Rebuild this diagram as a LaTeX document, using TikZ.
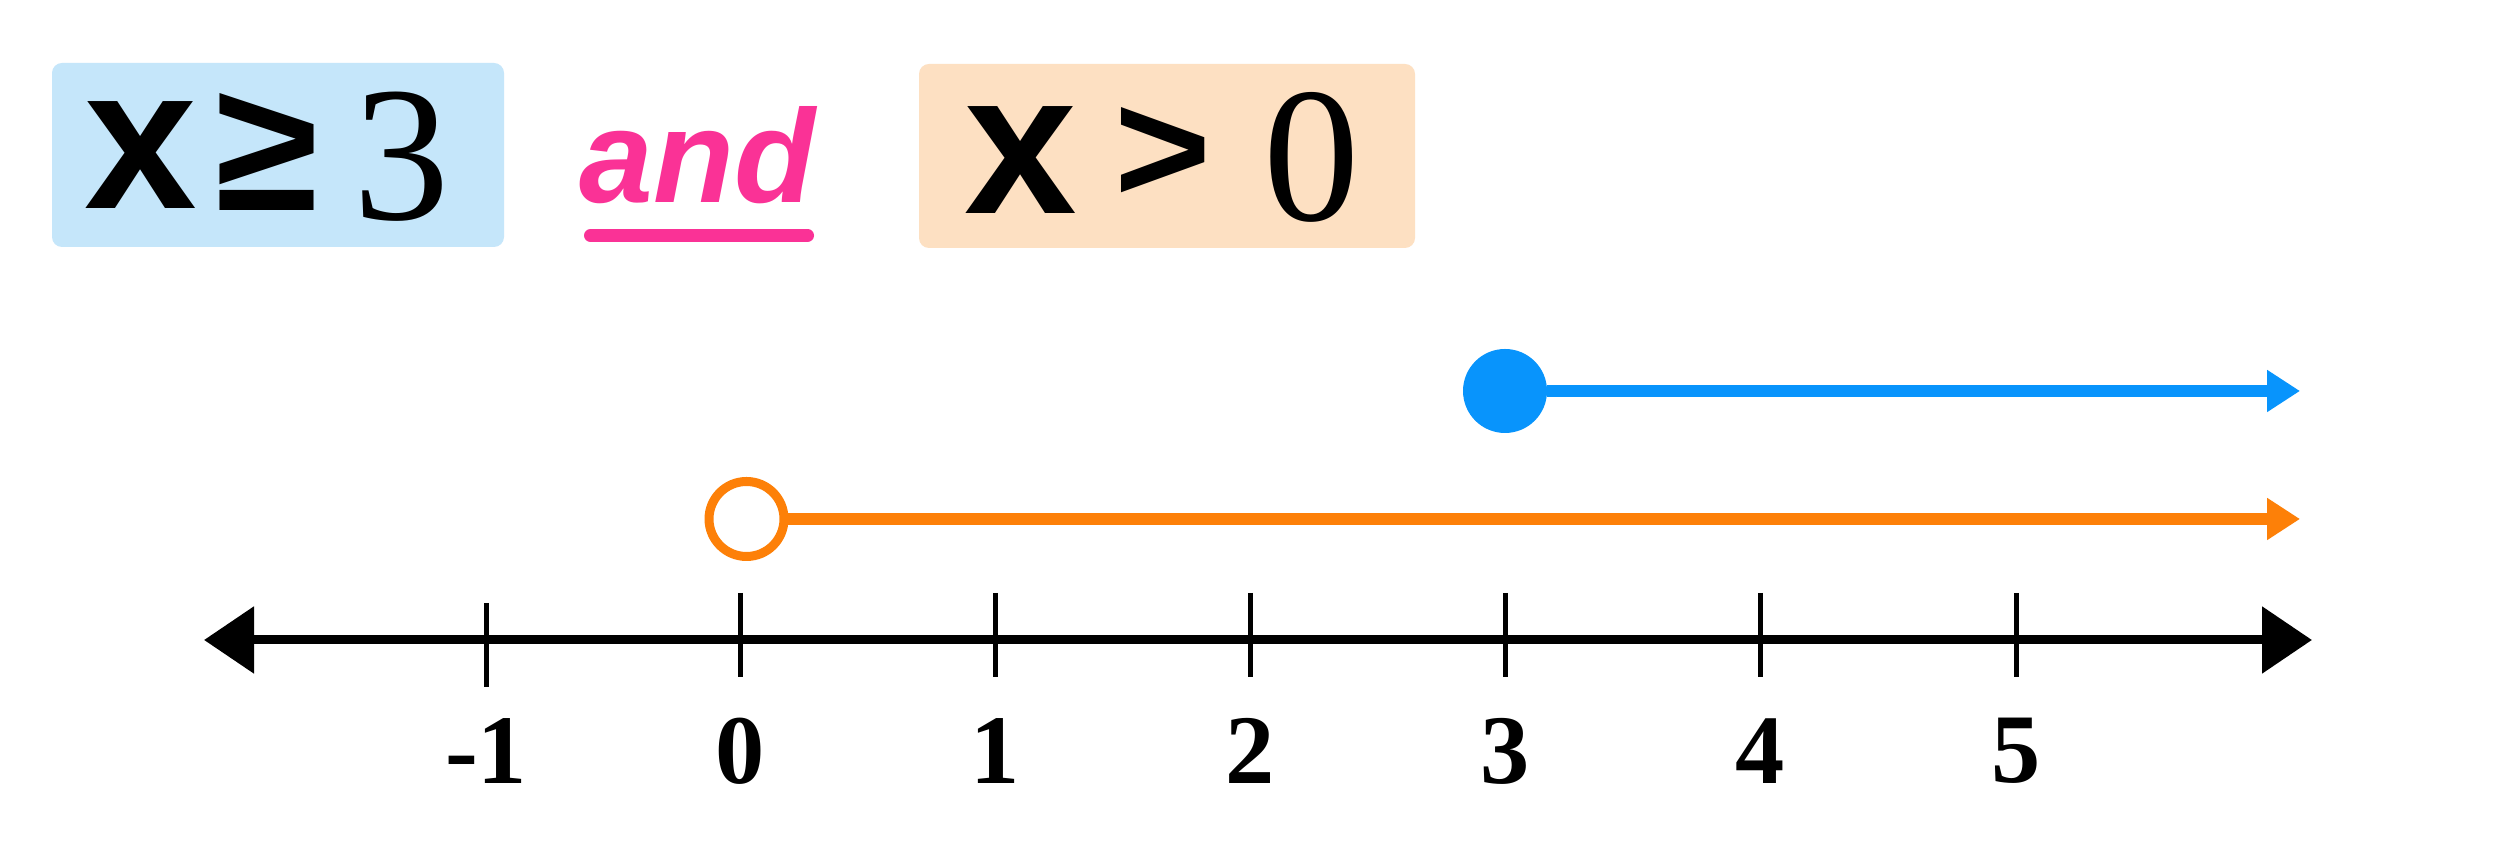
\documentclass[tikz,border=0pt]{standalone}
\usepackage{fontspec}
\setmainfont{Liberation Serif}
\newfontfamily\headsans{Liberation Sans}
\usetikzlibrary{arrows.meta}
\definecolor{boxblue}{RGB}{197,230,250}
\definecolor{boxpeach}{RGB}{253,224,194}
\definecolor{rayblue}{RGB}{8,148,252}
\definecolor{rayorange}{RGB}{253,128,8}
\definecolor{andpink}{RGB}{250,50,150}

\begin{document}
\begin{tikzpicture}[
  hbox/.style={rectangle,rounded corners=1mm,minimum height=18.4mm,inner sep=0pt},
  glyph/.style={inner sep=0pt},
  var/.style={glyph,font=\headsans\bfseries\fontsize{57.6}{60}\selectfont},
  num/.style={glyph,font=\fontsize{54.8}{58}\selectfont},
  tick/.style={line width=0.5mm},
  tlbl/.style={glyph,font=\bfseries\fontsize{28}{30}\selectfont},
  ray/.style={line width=1.2mm,-{Triangle[length=3.3mm,width=4mm]}}]

\fill[white] (0,0) rectangle (25,8.64);
\useasboundingbox (0,0) rectangle (25,8.64);

% the two inequalities
\node[hbox,fill=boxblue,minimum width=45.2mm] (lhsbox) at (2.78,7.09) {};
\node[hbox,fill=boxpeach,minimum width=49.6mm] (rhsbox) at (11.67,7.08) {};

\node[var] (lx) at (1.405,7.085) {x};
\node[glyph] (lge) at (2.665,7.115)
  {\resizebox*{10.3mm}{11.7mm}{\headsans\bfseries ≥}};
\node[num] (lthree) at (4.02,7.075) {3};

\node[var] (rx) at (10.21,7.035) {x};
\node[glyph] (rgt) at (11.625,7.085)
  {\resizebox*{9.7mm}{9.5mm}{\headsans\bfseries >}};
\node[num] (rzero) at (13.115,7.07) {0};

\node[glyph,font=\headsans\bfseries\itshape\fontsize{37.7}{40}\selectfont,
      text=andpink] (andw) at (6.975,7.085) {and};
\coordinate (ulstart) at (5.905,6.285);
\coordinate (ulend) at (8.075,6.285);
\draw[line width=1.3mm,line cap=round,andpink] (ulstart) -- (ulend);

% solution rays
\node[circle,fill=rayblue,minimum size=8.4mm,inner sep=0pt,outer sep=0pt] (bdot) at (15.05,4.73) {};
\coordinate (btip) at (23.00,4.73);
\draw[ray,rayblue] (bdot) -- (btip);

\node[circle,draw=rayorange,line width=0.9mm,fill=white,minimum size=7.5mm,
      inner sep=0pt,outer sep=0pt] (odot) at (7.465,3.45) {};
\coordinate (otip) at (23.00,3.45);
\draw[ray,rayorange] (odot) -- (otip);

% number line
\coordinate (lend) at (2.04,2.24);
\coordinate (rend) at (23.12,2.24);
\draw[line width=0.9mm,{Triangle[length=5mm,width=6.5mm]}-{Triangle[length=5mm,width=6.5mm]}]
  (lend) -- (rend);

\draw[tick] (4.86,2.61) -- (4.86,1.77);
\draw[tick] (7.40,2.71) -- (7.40,1.87);
\draw[tick] (9.95,2.71) -- (9.95,1.87);
\draw[tick] (12.50,2.71) -- (12.50,1.87);
\draw[tick] (15.05,2.71) -- (15.05,1.87);
\draw[tick] (17.60,2.71) -- (17.60,1.87);
\draw[tick] (20.16,2.71) -- (20.16,1.87);

\node[tlbl] (lbm1) at (4.86,1.13) {-1};
\node[tlbl] (lb0) at (7.40,1.13) {0};
\node[tlbl] (lb1) at (9.95,1.13) {1};
\node[tlbl] (lb2) at (12.50,1.13) {2};
\node[tlbl] (lb3) at (15.05,1.13) {3};
\node[tlbl] (lb4) at (17.60,1.13) {4};
\node[tlbl] (lb5) at (20.16,1.13) {5};
\end{tikzpicture}
\end{document}
